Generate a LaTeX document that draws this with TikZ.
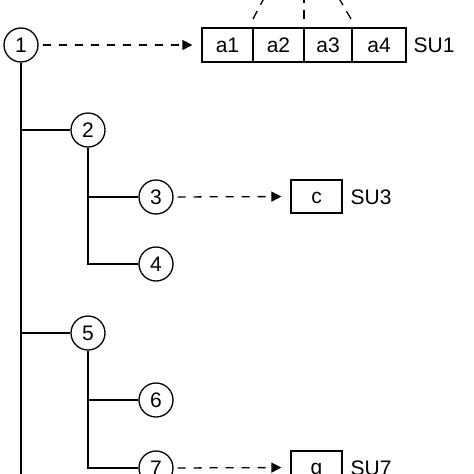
\documentclass[tikz,border=0pt]{standalone}
\usepackage{fontspec}
\setmainfont{Liberation Sans}
\usetikzlibrary{arrows.meta}
\begin{document}
\begin{tikzpicture}[x=1pt,y=-1pt,line width=1.3pt,
  circ/.style={circle,draw,minimum size=34pt,inner sep=0pt,font=\fontsize{21}{21}\selectfont},
  cell/.style={rectangle,draw,minimum height=34pt,inner sep=0pt,text height=14.5pt,text depth=0pt,font=\fontsize{21}{21}\selectfont},
  lbl/.style={anchor=west,inner sep=0pt,font=\fontsize{21}{21}\selectfont},
  dasharrow/.style={dash pattern=on 8pt off 8pt,-{Triangle[length=10pt,width=10pt]},shorten <=4pt,shorten >=9pt},
  topdash/.style={dash pattern=on 9pt off 7pt}]
\useasboundingbox (0,0) rectangle (474,474);
\clip (0,0) rectangle (474,474);
% tree nodes
\node[circ] (c1) at (21,45) {1};
\node[circ] (c2) at (88,130) {2};
\node[circ] (c3) at (156,197) {3};
\node[circ] (c4) at (156,264) {4};
\node[circ] (c5) at (88,333) {5};
\node[circ] (c6) at (156,400) {6};
\node[circ] (c7) at (156,468) {7};
% storage units
\node[cell,minimum width=51pt] (a1) at (227.5,45) {a1};
\node[cell,minimum width=51pt] (a2) at (278.5,45) {a2};
\node[cell,minimum width=48pt] (a3) at (328,45) {a3};
\node[cell,minimum width=54pt] (a4) at (379,45) {a4};
\node[lbl] (su1) at (413,45) {SU1};
\node[cell,minimum width=51pt,minimum height=33pt] (bc) at (316.5,196.5) {c};
\node[lbl] (su3) at (350,197) {SU3};
\node[cell,minimum width=51pt,minimum height=33pt] (bg) at (316.5,467.5) {g};
\node[lbl] (su7) at (350,468) {SU7};
% tree connectors
\coordinate (bot) at (21,490);
\draw (c1.south) -- (bot);
\draw (c1.south |- c2) -- (c2.west);
\draw (c1.south |- c5) -- (c5.west);
\draw (c2.south) |- (c4.west);
\draw (c2.south |- c3) -- (c3.west);
\draw (c5.south) |- (c7.west);
\draw (c5.south |- c6) -- (c6.west);
% dashed arrows
\draw[dasharrow] (c1.east) -- (a1.west);
\draw[dasharrow] (c3.east) -- (bc.west);
\draw[dasharrow] (c7.east) -- (bg.west);
% dashed lines above SU1
\coordinate (l0) at (253,19); \coordinate (l1) at (268.3,-10);
\coordinate (m0) at (304,19); \coordinate (m1) at (304,-10);
\coordinate (r0) at (351,19); \coordinate (r1) at (334.2,-10);
\draw[topdash] (l0) -- (l1);
\draw[topdash] (m0) -- (m1);
\draw[topdash] (r0) -- (r1);
\end{tikzpicture}
\end{document}
